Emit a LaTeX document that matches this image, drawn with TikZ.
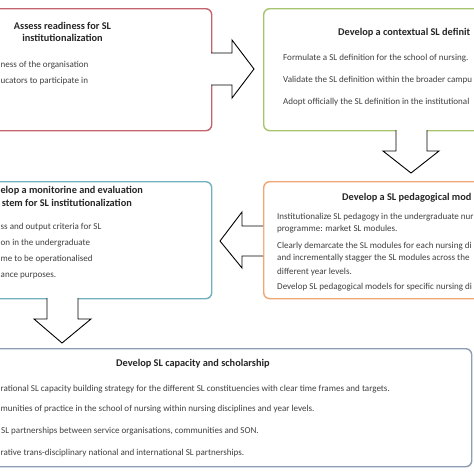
\documentclass[tikz,border=0pt]{standalone}
\usepackage{fontspec}
\setmainfont{Carlito}
\usetikzlibrary{calc}
\definecolor{cred}{HTML}{C4646F}
\definecolor{cgreen}{HTML}{A9C46F}
\definecolor{cteal}{HTML}{72B0BE}
\definecolor{corange}{HTML}{F0A673}
\definecolor{cslate}{HTML}{8C9DB4}
\definecolor{ctext}{HTML}{404040}
\definecolor{ctitle}{HTML}{262626}
\tikzset{
  box/.style={draw=#1, line width=1.4pt, rounded corners=6pt, fill=white, inner sep=0pt, anchor=north west},
  blk/.style={draw=black, line width=0.9pt, fill=white, line join=miter},
  ttl/.style={font=\fontsize{10.3}{12}\selectfont\bfseries, text=ctitle, inner sep=0pt},
  txt/.style={font=\fontsize{9.05}{11}\selectfont, text=ctext, inner sep=0pt},
}
\begin{document}
\begin{tikzpicture}[x=1pt,y=-1pt]
\useasboundingbox (0,0) rectangle (474,474);
\clip (0,0) rectangle (474,474);
\fill[white] (0,0) rectangle (474,474);
% boxes
\node[box=cred, minimum width=298pt, minimum height=122pt] (b1) at (-87,8) {};
\node[box=cgreen, minimum width=300pt, minimum height=122pt] (b2) at (263,8) {};
\node[box=cteal, minimum width=298pt, minimum height=117pt] (b3) at (-87,181) {};
\node[box=corange, minimum width=300pt, minimum height=117pt] (b4) at (263,181) {};
\node[box=cslate, minimum width=558pt, minimum height=118pt] (b5) at (-87,348) {};
% block arrows
\draw[blk] (211,53) -- (232,53) -- (232,40) -- (254,69) -- (232,98) -- (232,85) -- (211,85);
\draw[blk] (396,130) -- (396,151) -- (383,151) -- (411,173) -- (439,151) -- (427,151) -- (427,130);
\draw[blk] (263,226) -- (242,226) -- (242,212) -- (220,241) -- (242,268) -- (242,256) -- (263,256);
\draw[blk] (47,298) -- (47,319) -- (34,319) -- (62,343) -- (91,319) -- (78,319) -- (78,298);
% box 1
\node[ttl, align=center] (t1) at (62.5,32) {Assess readiness for SL\\institutionalization};
\node[txt, anchor=west] (t1a) at (0.5,65) {ness of the organisation};
\node[txt, anchor=west] (t1b) at (0.5,81) {ucators to participate in};
% box 2
\node[ttl, anchor=west] (t2) at (338,33) {Develop a contextual SL definit};
\node[txt, anchor=west] (t2a) at (283,58) {Formulate a SL definition for the school of nursing.};
\node[txt, anchor=west] (t2b) at (283,80) {Validate the SL definition within the broader campu};
\node[txt, anchor=west] (t2c) at (283,102) {Adopt officially the SL definition in the institutional};
% box 3
\node[ttl, anchor=east] (t3) at (143,191) {elop a monitorine and evaluation};
\node[ttl, anchor=east] (t3b) at (132,203) {stem for SL institutionalization};
\node[txt, anchor=west] (t3c) at (0.5,227) {ss and output criteria for SL};
\node[txt, anchor=west] (t3d) at (0.5,243) {on in the undergraduate};
\node[txt, anchor=west] (t3e) at (0.5,259) {me to be operationalised};
\node[txt, anchor=west] (t3f) at (0.5,276) {ance purposes.};
% box 4
\node[ttl, anchor=west] (t4) at (342,198) {Develop a SL pedagogical mod};
\node[txt, anchor=west] (t4a) at (277,217) {Institutionalize SL pedagogy in the undergraduate nur};
\node[txt, anchor=west] (t4b) at (277,229) {programme: market SL modules.};
\node[txt, anchor=west] (t4c) at (277,246) {Clearly demarcate the SL modules for each nursing di};
\node[txt, anchor=west] (t4d) at (277,258) {and incrementally stagger the SL modules across the};
\node[txt, anchor=west] (t4e) at (277,272) {different year levels.};
\node[txt, anchor=west] (t4f) at (277,287) {Develop SL pedagogical models for specific nursing di};
% box 5
\node[ttl, anchor=west] (t5) at (116,364) {Develop SL capacity and scholarship};
\node[txt, anchor=west] (t5a) at (0.5,389) {rational SL capacity building strategy for the different SL constituencies with clear time frames and targets.};
\node[txt, anchor=west] (t5b) at (0.5,409) {munities of practice in the school of nursing within nursing disciplines and year levels.};
\node[txt, anchor=west] (t5c) at (1,431) {SL partnerships between service organisations, communities and SON.};
\node[txt, anchor=west] (t5d) at (0.5,453) {rative trans-disciplinary national and international SL partnerships.};
\end{tikzpicture}
\end{document}
